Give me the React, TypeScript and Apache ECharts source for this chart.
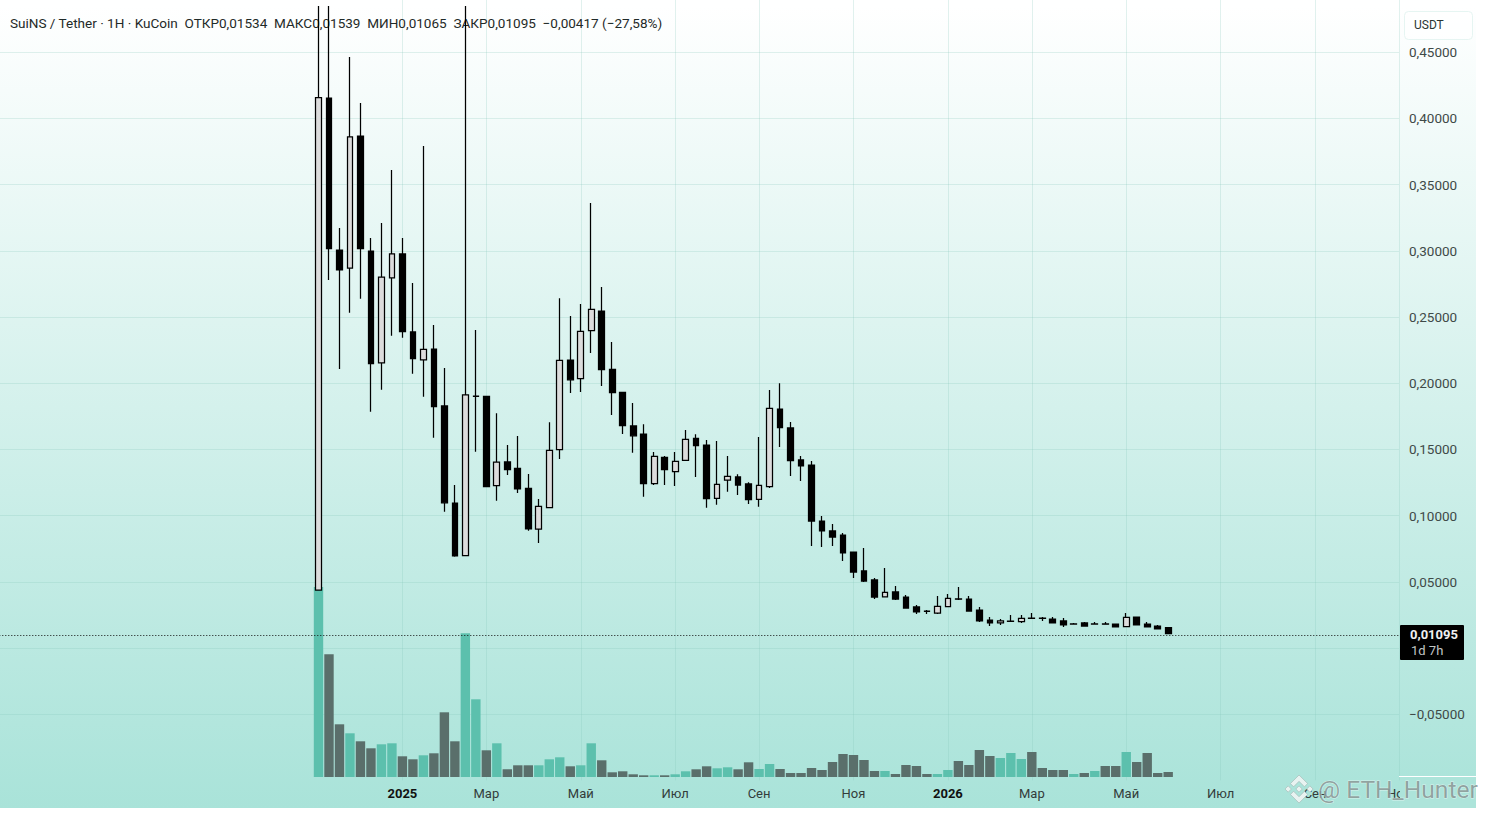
import React, { useEffect, useRef } from "react";
import * as echarts from "echarts";

const titleText = "SuiNS / Tether · 1H · KuCoin  ОТКР0,01534  МАКС0,01539  МИН0,01065  ЗАКР0,01095  −0,00417 (−27,58%)";
const lastPrice = 0.01095;
const leadingSlots = 31;
const totalSlots = 135;
const tickLabels: Record<number, string> = {
  8: "2025", 16: "Мар", 25: "Май", 34: "Июл", 42: "Сен", 51: "Ноя",
  60: "2026", 68: "Мар", 77: "Май", 86: "Июл", 95: "Сен", 103: "Ноя",
};
const boldLabels = ["2025", "2026"];

const opens = [
  0.0438, 0.4154, 0.3006, 0.287, 0.3867, 0.2998, 0.2153, 0.2795, 0.2976, 0.2387,
  0.2177, 0.2258, 0.1828, 0.1095, 0.0697, 0.19, 0.1901, 0.1226, 0.1405, 0.1357,
  0.1206, 0.0897, 0.106, 0.1498, 0.2175, 0.2034, 0.2397, 0.2545, 0.2105, 0.1931,
  0.1677, 0.1616, 0.1241, 0.144, 0.1332, 0.1418, 0.1584, 0.1533, 0.1131, 0.1267,
  0.1292, 0.1239, 0.1123, 0.1218, 0.1805, 0.1662, 0.142, 0.1382, 0.0959, 0.0884,
  0.0853, 0.0725, 0.0582, 0.0514, 0.0387, 0.0423, 0.0385, 0.031, 0.0278, 0.0264,
  0.0312, 0.0371, 0.037, 0.0287, 0.0211, 0.0189, 0.0201, 0.0199, 0.0225, 0.0225,
  0.0219, 0.0204, 0.018, 0.0189, 0.018, 0.0182, 0.0181, 0.0161, 0.0234, 0.0181,
  0.0166, 0.01534,
];
const closes = [
  0.4156, 0.3016, 0.2855, 0.386, 0.3016, 0.2147, 0.2802, 0.2976, 0.2389, 0.2185,
  0.2256, 0.1823, 0.1097, 0.0695, 0.1911, 0.1902, 0.1218, 0.1403, 0.1347, 0.1201,
  0.0899, 0.107, 0.1493, 0.2173, 0.2026, 0.2392, 0.2558, 0.2102, 0.1928, 0.1679,
  0.1603, 0.1241, 0.1448, 0.1347, 0.141, 0.1576, 0.1528, 0.1128, 0.1236, 0.1297,
  0.1231, 0.112, 0.1229, 0.181, 0.1664, 0.1415, 0.1375, 0.0959, 0.0884, 0.0838,
  0.0718, 0.0574, 0.0506, 0.0385, 0.0421, 0.037, 0.0302, 0.0272, 0.0276, 0.0315,
  0.0375, 0.0369, 0.0279, 0.0204, 0.0189, 0.0204, 0.0203, 0.0224, 0.0224, 0.0224,
  0.0189, 0.0174, 0.0182, 0.0166, 0.0182, 0.018, 0.0159, 0.0232, 0.0174, 0.0159,
  0.0144, 0.01095,
];
const lows = [
  0.0438, 0.2779, 0.2107, 0.2533, 0.2638, 0.1785, 0.1951, 0.2359, 0.2344, 0.2072,
  0.1898, 0.1588, 0.1029, 0.069, 0.0697, 0.1483, 0.1218, 0.1113, 0.1307, 0.1171,
  0.0886, 0.0793, 0.106, 0.1428, 0.1926, 0.1934, 0.2228, 0.1979, 0.176, 0.1616,
  0.1475, 0.1143, 0.1231, 0.1231, 0.1224, 0.1418, 0.1292, 0.106, 0.1082, 0.1181,
  0.1156, 0.1088, 0.1067, 0.1208, 0.1518, 0.1299, 0.1261, 0.077, 0.0763, 0.077,
  0.0657, 0.0529, 0.0498, 0.037, 0.0387, 0.0363, 0.0302, 0.0257, 0.0257, 0.0257,
  0.0312, 0.0363, 0.0279, 0.0196, 0.0166, 0.0174, 0.0201, 0.0189, 0.0224, 0.0204,
  0.0189, 0.0159, 0.018, 0.0166, 0.018, 0.018, 0.0159, 0.0161, 0.0174, 0.0159,
  0.0144, 0.01065,
];
const highs = [
  0.4849, 0.4849, 0.3172, 0.4464, 0.4116, 0.3097, 0.321, 0.361, 0.3097, 0.2757,
  0.3792, 0.244, 0.2115, 0.1231, 0.4849, 0.2402, 0.1901, 0.1773, 0.1533, 0.1601,
  0.1314, 0.1125, 0.1705, 0.2641, 0.2508, 0.2598, 0.3361, 0.2727, 0.2311, 0.1934,
  0.185, 0.169, 0.148, 0.145, 0.148, 0.1647, 0.1614, 0.1571, 0.1563, 0.145,
  0.1312, 0.1252, 0.1594, 0.1949, 0.1999, 0.1707, 0.145, 0.1412, 0.0997, 0.0937,
  0.0869, 0.0725, 0.0755, 0.0529, 0.0604, 0.0468, 0.04, 0.0325, 0.0287, 0.0393,
  0.0408, 0.0461, 0.0393, 0.031, 0.0234, 0.0219, 0.0249, 0.0249, 0.0264, 0.0234,
  0.0234, 0.0227, 0.0189, 0.0196, 0.0196, 0.0196, 0.0181, 0.0264, 0.0234, 0.0196,
  0.0174, 0.01539,
];
const volumes = [
  190, 122.7, 52.7, 43.7, 35.7, 28.7, 32.7, 33.7, 20.7, 17.7,
  21.7, 23.7, 64.7, 35.7, 143.7, 77.7, 26.7, 33.7, 7.7, 11.7,
  11.7, 11.7, 17.7, 19.7, 10.7, 11.7, 33.7, 16.7, 4.7, 5.7,
  2.7, 1.7, 1.7, 1.7, 2.7, 5.7, 7.7, 10.7, 8.7, 9.7,
  7.7, 14.7, 8, 13, 8, 4, 4, 9, 7, 15,
  23, 22, 17, 6, 6, 3, 12, 11, 3, 3,
  7, 16, 12, 27, 21, 19, 24, 18, 25, 9,
  7, 7, 3, 4, 6, 11, 11, 25, 15, 24,
  4, 5,
];

const priceTicksHidden = [-0.1, 0.5];
const formatPrice = (v: number) =>
  (v < 0 ? "−" : "") + Math.abs(v).toFixed(5).replace(".", ",");

const categories = Array.from({ length: totalSlots }, (_, i) => tickLabels[i - leadingSlots] ?? "");

const BINANCE =
  "M16.624 13.9202l2.7175 2.7154-7.353 7.353-7.353-7.352 2.7175-2.7164 4.6355 4.6595 4.6356-4.6595zm4.6366-4.6366L24 12l-2.7154 2.7164L18.5682 12l2.6924-2.7164zm-9.272.001l2.7163 2.6914-2.7164 2.7174v-.001L9.2721 12l2.7164-2.7154zm-9.2722-.001L5.4088 12l-2.6914 2.6924L0 12l2.7164-2.7164zM11.9885.0115l7.353 7.329-2.7174 2.7154-4.6356-4.6356-4.6355 4.6595-2.7174-2.7154 7.353-7.353z";

export default function App() {
  const ref = useRef<HTMLDivElement>(null);
  useEffect(() => {
    if (!ref.current) return;
    echarts.graphic.registerShape("binanceLogo", echarts.graphic.extendPath(BINANCE, {}) as any);
    const chart = echarts.init(ref.current, undefined, { renderer: "svg" });
    const font = "Roboto, sans-serif";
    const gridColor = "rgba(130,195,182,0.24)";
    const candleData = opens.map((o, i) => [i + leadingSlots, o, closes[i], lows[i], highs[i]]);
    const volumeData = volumes.map((v, i) => ({
      value: [i + leadingSlots, v],
      itemStyle: { color: closes[i] > opens[i] ? "#5cc0ad" : "#5a6f6b" },
    }));
    chart.setOption({
      animation: false,
      backgroundColor: "#ffffff",
      grid: [
        { left: -6.69, width: 1405.66, top: -14, height: 794.4, outerBoundsMode: "none" },
        { left: -6.69, width: 1405.66, top: 577, height: 200, outerBoundsMode: "none" },
      ],
      xAxis: [
        {
          type: "category",
          gridIndex: 0,
          data: categories,
          boundaryGap: false,
          axisLine: { show: false },
          axisTick: { show: false },
          splitLine: {
            show: true,
            interval: (_: number, v: string) => v !== "",
            lineStyle: { color: gridColor, width: 1 },
          },
          axisLabel: {
            interval: (_: number, v: string) => v !== "",
            margin: 7,
            fontFamily: font,
            fontSize: 13,
            color: "#333c3a",
            formatter: (v: string) => (boldLabels.includes(v) ? `{b|${v}}` : v),
            rich: { b: { fontFamily: font, fontSize: 13, fontWeight: "bold", color: "#111" } },
          },
        },
        {
          type: "category",
          gridIndex: 1,
          data: categories,
          boundaryGap: false,
          show: false,
        },
      ],
      yAxis: [
        {
          type: "value",
          gridIndex: 0,
          position: "right",
          min: -0.1,
          max: 0.5,
          interval: 0.05,
          axisLine: { show: false },
          axisTick: { show: false },
          splitLine: { show: true, showMinLine: false, showMaxLine: false, lineStyle: { color: gridColor, width: 1 } },
          axisLabel: {
            margin: 10,
            fontFamily: font,
            fontSize: 13.5,
            color: "#3f4a48",
            formatter: (v: number) =>
              priceTicksHidden.some((t) => Math.abs(t - v) < 1e-9) ? "" : formatPrice(v),
          },
        },
        { type: "value", gridIndex: 1, min: 0, max: 200, show: false },
      ],
      series: [
        {
          type: "bar",
          name: "Volume",
          xAxisIndex: 1,
          yAxisIndex: 1,
          barWidth: 9.4,
          z: 2,
          data: volumeData,
        },
        {
          type: "candlestick",
          name: "SUINS/USDT",
          xAxisIndex: 0,
          yAxisIndex: 0,
          barWidth: 6.2,
          z: 3,
          encode: { x: 0, y: [1, 2, 3, 4] },
          itemStyle: {
            color: "#dcdcdc",
            color0: "#000000",
            borderColor: "#000000",
            borderColor0: "#000000",
            borderWidth: 1.25,
          },
          data: candleData,
          markLine: {
            silent: true,
            symbol: "none",
            label: { show: false },
            lineStyle: { type: [1, 2], color: "#111111", width: 1 },
            data: [{ yAxis: lastPrice }],
          },
        },
      ],
      graphic: [
        {
          type: "rect",
          z: -1,
          silent: true,
          shape: { x: 0, y: 6, width: 1476, height: 802 },
          style: {
            fill: {
              type: "linear", x: 0, y: 0, x2: 0, y2: 1,
              colorStops: [
                { offset: 0, color: "#ffffff" },
                { offset: 1, color: "#a9e3d9" },
              ],
            },
          },
        },
        {
          type: "text",
          z: 1,
          x: 10,
          y: 23,
          style: { text: titleText, font: `13.55px ${font}`, fill: "#1f2a28", verticalAlign: "middle" },
        },
        {
          type: "rect",
          z: 1,
          shape: { x: 1404.5, y: 11.5, width: 68, height: 28, r: 4 },
          style: { fill: "rgba(255,255,255,0.6)", stroke: "#e6f5f2", lineWidth: 1 },
        },
        {
          type: "text",
          z: 2,
          x: 1414,
          y: 25,
          style: { text: "USDT", font: `12px ${font}`, fill: "#2b3634", verticalAlign: "middle" },
        },
        {
          type: "rect",
          z: 10,
          shape: { x: 1400, y: 776, width: 76, height: 32 },
          style: { fill: "#ade4da" },
        },
        {
          type: "rect",
          z: 10,
          shape: { x: 1399, y: 776, width: 77, height: 1 },
          style: { fill: "#ffffff" },
        },
        {
          type: "rect",
          z: 10,
          shape: { x: 1400, y: 625, width: 64, height: 35, r: 1 },
          style: { fill: "#000000" },
        },
        {
          type: "text",
          z: 11,
          x: 1410,
          y: 634,
          style: { text: "0,01095", font: `bold 13px ${font}`, fill: "#f0f0f0", verticalAlign: "middle" },
        },
        {
          type: "text",
          z: 11,
          x: 1411,
          y: 650,
          style: { text: "1d 7h", font: `13px ${font}`, fill: "#c0c6c5", verticalAlign: "middle" },
        },
        {
          type: "binanceLogo",
          z: 12,
          x: 1285,
          y: 775,
          scaleX: 1.17,
          scaleY: 1.17,
          style: { fill: "#e8f3f1", stroke: "#9fb3b0", lineWidth: 0.5 },
        },
        {
          type: "text",
          z: 12,
          x: 1318,
          y: 789,
          style: {
            text: "@ ETH_Hunter",
            font: `24.6px ${font}`,
            fill: "rgba(135,150,148,0.85)",
            stroke: "rgba(255,255,255,0.55)",
            lineWidth: 1,
            verticalAlign: "middle",
          },
        },
      ],
    });
    return () => chart.dispose();
  }, []);
  return (
    <div
      ref={ref}
      style={{ position: "absolute", left: 0, top: 0, width: 1487, height: 815 }}
    />
  );
}
